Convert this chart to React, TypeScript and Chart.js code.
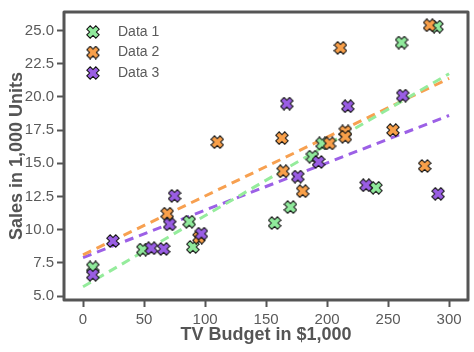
import React, { useEffect, useRef } from "react";
import { Chart, registerables } from "chart.js";

Chart.register(...registerables);

// ---- Data ----
const data1X = [8, 49, 87, 90, 157, 170, 188, 196, 240, 261, 290];
const data1Y = [7.15, 8.5, 10.6, 8.7, 10.5, 11.7, 15.5, 16.5, 13.15, 24.1, 25.3];

const data2X = [69, 95, 110, 163, 164, 180, 202, 215, 215, 211, 254, 280, 284];
const data2Y = [11.2, 9.4, 16.6, 16.9, 14.4, 12.9, 16.5, 17.4, 17.0, 23.7, 17.5, 14.8, 25.4];

const data3X = [8, 24.5, 56, 66, 71, 75, 97, 167, 176, 193, 217, 232, 262, 291];
const data3Y = [6.6, 9.15, 8.6, 8.55, 10.4, 12.55, 9.7, 19.5, 14.0, 15.1, 19.3, 13.35, 20.1, 12.7];

// Trend lines (endpoints)
const trendX = [0, 300];
const trend1Y = [5.7, 21.75];
const trend2Y = [8.1, 21.4];
const trend3Y = [7.9, 18.6];

const seriesLabels = ["Data 1", "Data 2", "Data 3"];
const xTickValues = [0, 50, 100, 150, 200, 250, 300];
const yTickValues = [5.0, 7.5, 10.0, 12.5, 15.0, 17.5, 20.0, 22.5, 25.0];

const xTitle = "TV Budget in $1,000";
const yTitle = "Sales in 1,000 Units";

const COLORS = ["#90ea9c", "#f9a04a", "#9a5ee4"];
const SPINE = "#555555";
const TEXT = "#5a5a5a";
const FONT = "'Liberation Sans', Arial, Helvetica, sans-serif";

function makeX(fill: string, size = 14): HTMLCanvasElement {
  const c = document.createElement("canvas");
  c.width = size;
  c.height = size;
  const ctx = c.getContext("2d")!;
  const half = size / 2;
  const ext = (half - 0.8) * Math.SQRT2;
  const a = 2.4;
  const r = ext - a;
  ctx.translate(half, half);
  ctx.rotate(Math.PI / 4);
  const pts = [
    [-a, r], [a, r], [a, a], [r, a], [r, -a], [a, -a],
    [a, -r], [-a, -r], [-a, -a], [-r, -a], [-r, a], [-a, a],
  ];
  ctx.beginPath();
  pts.forEach(([x, y], i) => (i === 0 ? ctx.moveTo(x, y) : ctx.lineTo(x, y)));
  ctx.closePath();
  ctx.fillStyle = fill;
  ctx.fill();
  ctx.lineWidth = 1;
  ctx.strokeStyle = "#111";
  ctx.stroke();
  return c;
}

const zip = (xs: number[], ys: number[]) => xs.map((x, i) => ({ x, y: ys[i] }));

export default function App() {
  const ref = useRef<HTMLCanvasElement | null>(null);

  useEffect(() => {
    const markers = COLORS.map((c) => makeX(c));

    const framePlugin = {
      id: "frame",
      beforeDatasetsDraw(chart: any) {
        const { ctx, chartArea } = chart;
        ctx.save();
        ctx.strokeStyle = SPINE;
        ctx.lineWidth = 3;
        ctx.lineJoin = "round";
        ctx.strokeRect(chartArea.left, chartArea.top, chartArea.right - chartArea.left, chartArea.bottom - chartArea.top);
        ctx.restore();
      },
    };

    const legendPlugin = {
      id: "xkcdLegend",
      afterDraw(chart: any) {
        const { ctx, chartArea } = chart;
        ctx.save();
        ctx.font = `14px ${FONT}`;
        ctx.fillStyle = TEXT;
        ctx.textBaseline = "middle";
        ctx.textAlign = "left";
        seriesLabels.forEach((lab, i) => {
          const cy = chartArea.top + 20 + i * 20.5;
          const cx = chartArea.left + 29;
          const m = markers[i];
          ctx.drawImage(m, cx - m.width / 2, cy - m.height / 2);
          ctx.fillText(lab, chartArea.left + 54, cy);
        });
        ctx.restore();
      },
    };

    const lineDs = (ys: number[], color: string) => ({
      type: "line" as const,
      data: zip(trendX, ys),
      borderColor: color,
      borderWidth: 3,
      borderDash: [9, 6],
      pointRadius: 0,
      fill: false,
      order: 10,
      showLine: true,
    });

    const scatterDs = (xs: number[], ys: number[], i: number, order: number) => ({
      type: "scatter" as const,
      label: seriesLabels[i],
      data: zip(xs, ys),
      pointStyle: markers[i],
      backgroundColor: COLORS[i],
      borderColor: "#111",
      order,
    });

    const chart = new Chart(ref.current!, {
      type: "scatter",
      data: {
        datasets: [
          scatterDs(data1X, data1Y, 0, 3),
          scatterDs(data2X, data2Y, 1, 2),
          scatterDs(data3X, data3Y, 2, 1),
          lineDs(trend1Y, "#95ec9c"),
          lineDs(trend2Y, "#f7a050"),
          lineDs(trend3Y, "#9c60e6"),
        ] as any,
      },
      options: {
        animation: false,
        responsive: false,
        layout: { padding: { left: 0, top: 6, right: 6, bottom: 0 } },
        plugins: {
          legend: { display: false },
          tooltip: { enabled: false },
        },
        scales: {
          x: {
            type: "linear",
            min: -15.6,
            max: 315.5,
            afterBuildTicks: (s: any) => {
              s.ticks = xTickValues.map((v) => ({ value: v }));
            },
            afterFit: (s: any) => {
              s.height = 52;
            },
            grid: {
              drawOnChartArea: false,
              drawTicks: true,
              tickLength: 7,
              tickWidth: 2,
              tickColor: SPINE,
            },
            border: { display: false },
            ticks: {
              color: TEXT,
              font: { family: FONT, size: 15 },
              padding: 4,
              maxRotation: 0,
              callback: (v: any) => String(v),
            },
            title: {
              display: true,
              text: xTitle,
              color: SPINE,
              font: { family: FONT, size: 18, weight: "bold" },
              padding: { top: 0, bottom: 6 },
            },
          },
          y: {
            type: "linear",
            min: 4.7,
            max: 26.4,
            afterBuildTicks: (s: any) => {
              s.ticks = yTickValues.map((v) => ({ value: v }));
            },
            afterFit: (s: any) => {
              s.width = 64;
            },
            grid: {
              drawOnChartArea: false,
              drawTicks: true,
              tickLength: 7,
              tickWidth: 2,
              tickColor: SPINE,
            },
            border: { display: false },
            ticks: {
              color: TEXT,
              font: { family: FONT, size: 15 },
              padding: 3,
              callback: (v: any) => Number(v).toFixed(1),
            },
            title: {
              display: true,
              text: yTitle,
              color: SPINE,
              font: { family: FONT, size: 18, weight: "bold" },
              padding: { top: 6, bottom: 0 },
            },
          },
        },
      } as any,
      plugins: [framePlugin, legendPlugin],
    });

    return () => chart.destroy();
  }, []);

  return (
    <div style={{ position: "absolute", left: 0, top: 0, width: 474, height: 352, background: "#fff" }}>
      <canvas ref={ref} width={474} height={352} style={{ display: "block" }} />
    </div>
  );
}
